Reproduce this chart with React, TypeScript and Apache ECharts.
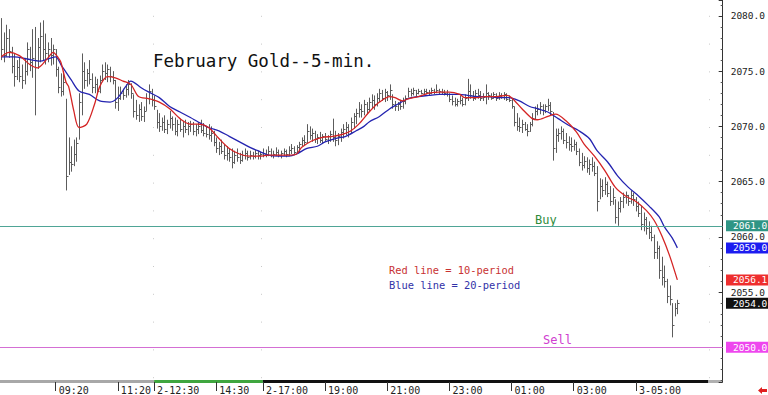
import React, { useEffect, useRef } from "react";
import * as echarts from "echarts";

// ---- time axis (5-minute bars) ----
function buildTimes(start: string, count: number): string[] {
  let [h, m] = start.split(":").map(Number);
  const out: string[] = [];
  for (let k = 0; k < count; k++) {
    out.push(String(h).padStart(2, "0") + ":" + String(m).padStart(2, "0"));
    m += 5;
    if (m >= 60) { m -= 60; h = (h + 1) % 24; }
  }
  return out;
}
const categories: string[] = [...buildTimes("07:35", 101), ...buildTimes("17:00", 178)];

const tickTimes = ["09:20", "11:20", "12:30", "14:30", "17:00", "19:00", "21:00", "23:00", "01:00", "03:00", "05:00"];
const tickLabels = ["09:20", "11:20", "2-12:30", "14:30", "2-17:00", "19:00", "21:00", "23:00", "01:00", "03:00", "3-05:00"];

// ---- price bars ----
const highs = [
  2079.8,2078.5,2079.2,2078.8,2077.2,2076.6,2076.0,2076.2,2075.6,2076.2,
  2077.6,2077.2,2078.8,2079.0,2078.0,2079.4,2079.6,2078.4,2077.6,2078.0,
  2077.4,2077.0,2075.4,2074.8,2075.0,2072.5,2069.0,2068.2,2068.8,2069.0,
  2073.0,2076.6,2075.8,2075.2,2076.0,2074.8,2074.5,2074.3,2074.6,2075.6,
  2075.8,2075.6,2075.4,2075.0,2074.2,2073.6,2073.6,2073.4,2073.8,2074.2,
  2073.9,2072.9,2072.4,2072.0,2072.2,2071.8,2073.0,2073.8,2073.4,2072.8,
  2071.5,2071.2,2070.8,2071.0,2070.6,2071.4,2070.9,2070.8,2070.6,2070.7,
  2070.5,2070.6,2070.4,2070.5,2070.4,2070.2,2070.4,2070.6,2070.3,2070.0,
  2070.2,2070.0,2069.6,2069.0,2068.6,2068.8,2068.4,2068.2,2068.0,2068.0,
  2067.8,2068.0,2067.6,2067.8,2068.0,2067.8,2067.8,2067.7,2067.9,2067.8,
  2067.7,
  2068.0,2067.9,2068.2,2068.0,2067.8,2068.1,2067.9,2067.8,2068.0,2067.9,
  2068.2,2068.4,2068.2,2068.3,2068.6,2069.0,2069.2,2070.2,2070.0,2069.8,
  2069.6,2069.3,2069.5,2069.3,2069.4,2069.2,2069.6,2070.7,2069.6,2069.4,
  2069.8,2070.2,2070.4,2070.2,2070.8,2071.2,2071.6,2072.2,2072.0,2072.4,
  2072.2,2072.6,2072.9,2072.8,2073.0,2073.4,2073.3,2073.4,2073.2,2073.8,
  2072.9,2072.3,2072.2,2072.4,2072.6,2072.8,2073.5,2073.4,2073.5,2073.3,
  2073.4,2073.3,2073.4,2073.4,2073.3,2073.5,2073.4,2073.8,2073.4,2073.4,
  2073.3,2073.3,2073.0,2072.8,2072.6,2072.5,2072.8,2072.6,2072.9,2074.3,
  2073.8,2073.2,2073.3,2073.4,2073.2,2073.0,2073.8,2073.1,2073.0,2073.1,
  2073.0,2073.1,2073.0,2073.1,2073.0,2072.8,2072.5,2071.8,2071.2,2070.8,
  2070.6,2070.4,2070.2,2070.4,2071.2,2071.8,2072.0,2072.2,2072.0,2072.0,
  2072.5,2072.2,2071.3,2069.8,2069.8,2070.0,2069.8,2069.4,2069.1,2069.0,
  2068.8,2068.6,2068.0,2067.6,2067.3,2067.2,2067.0,2067.2,2066.8,2066.4,
  2065.3,2065.2,2065.4,2065.0,2064.6,2064.4,2063.4,2063.2,2063.6,2064.0,
  2064.1,2063.8,2064.2,2064.0,2063.6,2063.2,2062.8,2062.2,2061.8,2061.4,
  2061.0,2060.2,2059.6,2059.2,2058.2,2057.4,2056.2,2055.6,2054.0,2054.0,2054.3,
];
const lows = [
  2076.0,2075.8,2076.3,2076.2,2074.8,2073.6,2074.2,2074.0,2073.4,2073.8,
  2074.6,2075.0,2074.4,2071.0,2075.2,2075.8,2076.0,2075.6,2075.8,2075.5,
  2075.6,2074.5,2073.0,2072.7,2072.8,2064.2,2065.6,2065.9,2066.4,2066.8,
  2068.8,2071.0,2073.4,2073.6,2073.8,2073.0,2073.0,2072.9,2073.0,2074.0,
  2074.2,2074.0,2074.0,2073.8,2071.6,2071.4,2072.4,2072.4,2072.6,2072.8,
  2072.5,2070.8,2070.6,2070.4,2070.5,2070.4,2071.4,2072.0,2071.8,2071.5,
  2069.8,2069.5,2069.6,2069.4,2069.3,2069.8,2069.6,2069.2,2069.1,2069.5,
  2069.0,2069.4,2069.2,2069.5,2069.2,2069.1,2069.3,2069.4,2069.1,2069.0,
  2068.8,2068.6,2068.2,2067.6,2067.4,2067.5,2067.0,2066.9,2066.8,2066.2,
  2066.6,2066.8,2066.6,2066.8,2067.0,2066.9,2067.0,2067.0,2067.1,2067.0,
  2067.0,
  2067.2,2067.2,2067.3,2067.2,2067.1,2067.3,2067.2,2067.1,2067.3,2067.2,
  2067.3,2067.5,2067.4,2067.5,2067.6,2068.2,2068.3,2068.5,2068.8,2068.6,
  2068.5,2068.4,2068.5,2068.4,2068.6,2068.4,2068.6,2068.6,2068.2,2068.3,
  2068.6,2068.9,2069.2,2069.0,2069.4,2069.8,2070.2,2070.8,2070.8,2071.0,
  2071.1,2071.4,2071.6,2071.5,2071.8,2072.2,2072.3,2072.2,2072.3,2072.4,
  2071.6,2071.4,2071.4,2071.5,2071.6,2072.0,2072.6,2072.7,2072.8,2072.7,
  2072.9,2072.9,2072.9,2072.9,2072.8,2072.9,2072.9,2073.0,2072.9,2072.9,
  2072.8,2072.7,2072.2,2071.9,2071.8,2071.8,2072.0,2071.8,2071.9,2072.3,
  2072.5,2072.3,2072.4,2072.5,2072.3,2072.3,2072.0,2072.4,2072.4,2072.5,
  2072.3,2072.4,2072.5,2072.4,2072.3,2072.2,2071.6,2070.0,2069.6,2069.5,
  2069.4,2069.6,2069.1,2069.5,2070.0,2070.6,2071.0,2071.1,2071.0,2071.2,
  2071.4,2071.0,2066.9,2067.6,2068.6,2068.8,2068.4,2068.0,2067.8,2067.7,
  2067.8,2067.4,2066.4,2066.0,2066.2,2065.8,2065.6,2065.9,2065.5,2062.3,
  2063.4,2063.6,2063.8,2063.6,2062.8,2062.9,2061.2,2061.0,2062.2,2062.6,
  2063.0,2062.8,2063.0,2062.8,2062.3,2061.8,2060.6,2060.5,2060.2,2059.8,
  2059.6,2058.0,2058.0,2056.2,2055.6,2055.4,2054.0,2053.8,2050.9,2052.8,2053.0,
];
const closes = [
  2077.0,2076.5,2078.0,2076.8,2075.5,2074.6,2075.4,2074.6,2074.2,2075.0,
  2077.0,2075.8,2076.2,2076.0,2077.2,2078.2,2077.0,2076.6,2077.0,2076.5,
  2077.0,2075.2,2073.6,2073.2,2074.0,2065.5,2066.8,2066.6,2067.5,2068.5,
  2072.2,2075.0,2074.2,2074.8,2074.3,2073.6,2073.8,2073.2,2074.2,2075.0,
  2074.8,2075.2,2074.6,2074.2,2072.2,2072.6,2073.0,2072.8,2073.4,2073.8,
  2073.0,2071.4,2071.0,2071.6,2070.9,2071.4,2072.6,2073.2,2072.4,2071.8,
  2070.4,2070.0,2070.4,2069.8,2070.2,2070.8,2070.2,2069.6,2070.2,2069.8,
  2070.0,2069.8,2070.0,2070.2,2069.6,2069.8,2070.0,2069.7,2069.4,2069.3,
  2069.2,2069.4,2068.6,2068.0,2068.2,2067.8,2067.4,2067.6,2067.2,2066.8,
  2067.4,2067.2,2067.0,2067.4,2067.6,2067.2,2067.4,2067.3,2067.6,2067.4,
  2067.5,
  2067.6,2067.5,2067.8,2067.4,2067.5,2067.7,2067.4,2067.6,2067.8,2067.5,
  2067.9,2068.0,2067.7,2068.1,2068.4,2068.8,2068.6,2069.6,2069.2,2069.4,
  2068.9,2069.0,2068.8,2069.1,2068.9,2068.8,2069.3,2069.0,2068.8,2069.1,
  2069.5,2069.8,2069.9,2069.6,2070.4,2070.9,2071.2,2071.6,2071.4,2072.0,
  2071.6,2072.2,2072.4,2072.0,2072.6,2073.0,2072.6,2073.1,2072.8,2073.3,
  2072.0,2071.8,2072.0,2071.8,2072.3,2072.6,2073.2,2073.0,2073.3,2073.0,
  2073.2,2073.0,2073.2,2073.1,2073.0,2073.3,2073.1,2073.3,2073.2,2073.1,
  2073.0,2072.9,2072.5,2072.3,2072.0,2072.3,2072.4,2072.0,2072.6,2073.2,
  2072.8,2072.6,2073.0,2072.8,2072.6,2072.7,2073.0,2072.8,2072.6,2072.9,
  2072.6,2072.8,2072.7,2072.9,2072.5,2072.4,2071.8,2070.4,2070.0,2069.9,
  2070.2,2069.8,2069.6,2070.2,2070.8,2071.4,2071.6,2071.8,2071.5,2071.8,
  2071.9,2071.4,2068.0,2069.2,2069.4,2069.6,2068.8,2068.6,2068.4,2068.2,
  2068.4,2067.8,2066.8,2066.5,2066.9,2066.2,2066.6,2066.4,2065.8,2063.2,
  2064.6,2064.2,2064.8,2064.0,2063.2,2063.6,2061.8,2062.6,2063.2,2063.6,
  2063.8,2063.2,2063.8,2063.4,2062.8,2062.2,2061.2,2061.6,2060.8,2060.4,
  2060.0,2058.6,2059.0,2057.0,2056.4,2056.0,2054.6,2054.4,2052.0,2053.6,2054.0,
];

// ---- moving averages: [bar index, price] ----
const ma10Points: [number, number][] = [
  [0,2076.3],[3,2076.7],[7,2076.4],[11,2075.6],[14,2075.3],[18,2076.2],[20,2076.7],[22,2076.2],[23,2075.8],
  [25,2074.0],[26,2073.6],[28,2071.4],[30,2069.9],[33,2070.2],[36,2072.0],[38,2073.6],[41,2074.5],[44,2074.4],
  [47,2074.1],[50,2073.8],[53,2072.7],[57,2072.5],[61,2072.2],[65,2071.6],[69,2070.7],[73,2070.2],[76,2070.2],
  [80,2069.9],[84,2068.9],[88,2068.0],[92,2067.5],[96,2067.3],[100,2067.3],[103,2067.4],[107,2067.4],[111,2067.4],
  [114,2067.5],[116,2068.1],[120,2068.7],[124,2069.0],[128,2069.1],[132,2069.3],[135,2069.6],[138,2070.2],
  [142,2071.3],[146,2072.2],[150,2072.7],[152,2072.6],[155,2072.3],[157,2072.5],[161,2072.7],[165,2073.0],
  [169,2073.1],[173,2073.1],[177,2072.9],[179,2072.6],[183,2072.6],[187,2072.7],[191,2072.7],[195,2072.8],
  [197,2072.6],[201,2071.6],[205,2070.7],[207,2070.6],[211,2070.9],[214,2071.1],[218,2070.5],[222,2069.5],
  [225,2068.4],[229,2067.3],[233,2066.0],[237,2064.5],[241,2063.7],[245,2063.2],[249,2062.4],[252,2061.5],
  [255,2060.1],[258,2058.3],[261,2056.1],
];
const ma20Points: [number, number][] = [
  [0,2076.3],[5,2076.3],[10,2076.1],[15,2075.9],[18,2076.1],[21,2076.3],[23,2075.6],[27,2074.2],[30,2073.2],
  [34,2072.9],[38,2072.3],[42,2072.2],[45,2072.6],[48,2073.6],[50,2074.1],[54,2073.5],[57,2073.1],[61,2072.6],
  [65,2071.8],[69,2071.3],[73,2070.8],[76,2070.4],[80,2069.9],[84,2069.6],[88,2069.1],[92,2068.6],[96,2068.1],
  [100,2067.7],[103,2067.4],[107,2067.3],[111,2067.3],[114,2067.5],[118,2068.0],[122,2068.2],[125,2068.6],
  [129,2068.9],[133,2069.1],[137,2069.6],[140,2070.0],[142,2070.4],[146,2070.9],[150,2071.6],[153,2072.0],
  [157,2072.5],[161,2072.7],[165,2072.8],[169,2072.9],[173,2072.9],[177,2072.9],[180,2072.8],[184,2072.7],
  [188,2072.7],[192,2072.6],[196,2072.6],[200,2072.3],[204,2071.8],[207,2071.6],[211,2071.3],[215,2070.7],
  [219,2070.1],[223,2069.6],[227,2068.9],[230,2067.8],[234,2066.8],[238,2065.5],[242,2064.5],[246,2063.7],
  [250,2062.8],[254,2061.8],[256,2060.9],[259,2059.9],[261,2059.0],
];

const buyLevel = 2061.0;
const sellLevel = 2050.0;
const yMin = 2046.86;
const yMax = 2081.44;

const MONO = "'DejaVu Sans Mono', monospace";

export default function App() {
  const ref = useRef<HTMLDivElement>(null);

  useEffect(() => {
    if (!ref.current) return;
    const chart = echarts.init(ref.current, undefined, { renderer: "svg" });
    const barData = closes.map((c, i) => [i, highs[i], lows[i], c]);
    const labelMap: Record<string, string> = {};
    tickTimes.forEach((t, k) => (labelMap[t] = tickLabels[k]));
    const showTick = (_i: number, v: string) => labelMap[v] !== undefined;

    chart.setOption({
      animation: false,
      backgroundColor: "#ffffff",
      grid: { left: 0, right: 43, top: 0, bottom: 10, containLabel: false },
      xAxis: {
        type: "category",
        data: categories,
        boundaryGap: true,
        axisLine: { show: false },
        axisTick: {
          show: true,
          alignWithLabel: true,
          interval: showTick,
          length: 9,
          lineStyle: { color: "#333", width: 1 },
        },
        axisLabel: {
          interval: showTick,
          formatter: (v: string) => labelMap[v] ?? "",
          align: "left",
          padding: [2, 0, 0, 3],
          margin: 1,
          fontSize: 10,
          fontFamily: MONO,
          color: "#222",
        },
        splitLine: {
          show: true,
          interval: (i: number) => i === 59 || i === 101 || i === 274,
          lineStyle: { color: "#c8c8c8", type: [1, 26.8], dashOffset: 11.8, width: 1 },
        },
      },
      yAxis: {
        type: "value",
        position: "right",
        min: yMin,
        max: yMax,
        splitNumber: 7,
        scale: true,
        axisLine: { show: true, lineStyle: { color: "#333", width: 1 } },
        axisTick: { show: true, inside: true, length: 4, lineStyle: { color: "#333" } },
        minorTick: { show: true, splitNumber: 5, length: 2, lineStyle: { color: "#555" } },
        splitLine: { show: false },
        axisLabel: {
          margin: 8,
          fontSize: 9.5,
          fontFamily: MONO,
          color: "#222",
          formatter: (v: number) =>
            Math.abs(v / 5 - Math.round(v / 5)) < 1e-6 && Math.abs(v - sellLevel) > 0.01 ? v.toFixed(1) : "",
        },
      },
      series: [
        {
          type: "custom",
          name: "bars",
          data: barData,
          encode: { x: 0, y: [1, 2, 3] },
          renderItem: (_p: any, api: any) => {
            const i = api.value(0);
            const pH = api.coord([i, api.value(1)]);
            const pL = api.coord([i, api.value(2)]);
            const pC = api.coord([i, api.value(3)]);
            const x = Math.round(pH[0]) + 0.5;
            const yc = Math.round(pC[1]) + 0.5;
            return {
              type: "group",
              children: [
                { type: "line", shape: { x1: x, y1: pH[1], x2: x, y2: pL[1] }, style: { stroke: "#5c5c5c", lineWidth: 1 } },
                { type: "line", shape: { x1: x, y1: yc, x2: x + 2, y2: yc }, style: { stroke: "#5c5c5c", lineWidth: 1 } },
              ],
            };
          },
          z: 2,
        },
        {
          type: "line",
          name: "20-period",
          data: ma20Points,
          showSymbol: false,
          symbol: "none",
          smooth: 0.3,
          lineStyle: { color: "#2424b0", width: 1.3 },
          z: 3,
          markLine: {
            silent: true,
            symbol: "none",
            label: { show: false },
            lineStyle: { color: "#4fa596", width: 1, type: "solid" },
            data: [{ yAxis: buyLevel }],
          },
        },
        {
          type: "line",
          name: "10-period",
          data: ma10Points,
          showSymbol: false,
          symbol: "none",
          smooth: 0.3,
          lineStyle: { color: "#d42424", width: 1.3 },
          z: 4,
          markLine: {
            silent: true,
            symbol: "none",
            label: { show: false },
            lineStyle: { color: "#d46fd4", width: 1, type: "solid" },
            data: [{ yAxis: sellLevel }],
          },
        },
      ],
    });

    const px = (i: number) => chart.convertToPixel({ xAxisIndex: 0 }, categories[i]) as number;
    const py = (v: number) => chart.convertToPixel({ yAxisIndex: 0 }, v) as number;
    const axisY = py(yMin);
    const axisX = chart.getWidth() - 43;

    const boxes: [number, string][] = [
      [buyLevel, "#2f9585"],
      [ma20Points[ma20Points.length - 1][1], "#1c1cf0"],
      [ma10Points[ma10Points.length - 1][1], "#ee2e2e"],
      [closes[closes.length - 1], "#111111"],
      [sellLevel, "#ee46ee"],
    ];

    const graphic: any[] = [
      {
        type: "text", x: 153, y: 61,
        style: { text: "February Gold--5-min.", fill: "#111", fontSize: 17.5, fontFamily: MONO, verticalAlign: "middle", align: "left" },
      },
      {
        type: "text", x: 389, y: 270,
        style: { text: "Red line = 10-period", fill: "#c83232", fontSize: 10.4, fontFamily: MONO, verticalAlign: "middle", align: "left" },
      },
      {
        type: "text", x: 389, y: 285,
        style: { text: "Blue line = 20-period", fill: "#3232a8", fontSize: 10.4, fontFamily: MONO, verticalAlign: "middle", align: "left" },
      },
      {
        type: "text", x: 535, y: py(buyLevel) - 6,
        style: { text: "Buy", fill: "#2e8b3a", fontSize: 12, fontFamily: MONO, verticalAlign: "middle", align: "left" },
      },
      {
        type: "text", x: 543, y: py(sellLevel) - 7,
        style: { text: "Sell", fill: "#d040d0", fontSize: 12, fontFamily: MONO, verticalAlign: "middle", align: "left" },
      },
      // session strip along the bottom axis
      { type: "rect", shape: { x: 0, y: axisY - 2, width: px(59), height: 3 }, style: { fill: "#a8a8a8" } },
      { type: "rect", shape: { x: px(59), y: axisY - 2, width: px(101) - px(59), height: 3 }, style: { fill: "#3fa63f" } },
      { type: "rect", shape: { x: px(101), y: axisY - 2, width: px(273) - px(101), height: 3 }, style: { fill: "#111" } },
      { type: "rect", shape: { x: px(273), y: axisY - 2, width: axisX - 3 - px(273), height: 3 }, style: { fill: "#b0b0b0" } },
      // red arrow
      {
        type: "polygon",
        shape: { points: [[758, 390.5], [762, 387], [762, 389], [767, 389], [767, 392], [762, 392], [762, 394]] },
        style: { fill: "#e02020" },
      },
    ];
    boxes.forEach(([v, color]) => {
      const y = py(v);
      graphic.push({
        type: "rect",
        shape: { x: axisX + 1, y: y - 5.5, width: 768 - axisX - 1, height: 11 },
        style: { fill: color },
        z: 10,
      });
      graphic.push({
        type: "text",
        x: axisX + 8,
        y,
        style: { text: v.toFixed(1), fill: "#fff", fontSize: 9.5, fontFamily: MONO, verticalAlign: "middle", align: "left" },
        z: 11,
      });
    });

    chart.setOption({ graphic });

    return () => chart.dispose();
  }, []);

  return (
    <div
      ref={ref}
      style={{ position: "absolute", left: 0, top: 0, width: 768, height: 395, background: "#fff" }}
    />
  );
}
